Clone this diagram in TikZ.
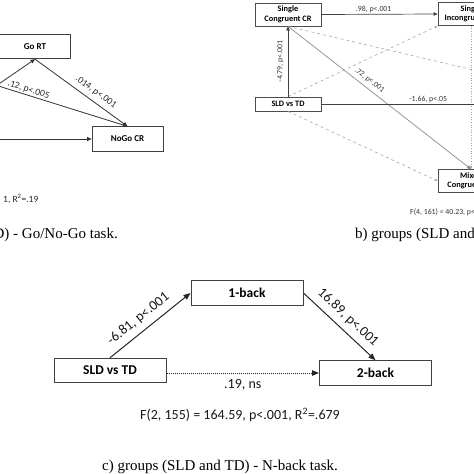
\documentclass[tikz,border=0pt]{standalone}
\usepackage{fontspec}
\setmainfont{Liberation Serif}
\newfontfamily\calibri{Carlito}
\usetikzlibrary{arrows.meta}
\tikzset{
	boxa/.style={draw=black!75,line width=0.8pt,inner sep=1pt,minimum width=71pt,minimum height=24.5pt,font={\calibri\fontsize{9}{10}\selectfont\bfseries}},
	boxb/.style={draw=black!70,line width=0.7pt,inner sep=1pt,align=center,minimum width=66pt,minimum height=23pt,font={\calibri\fontsize{8.3}{9.5}\selectfont\bfseries}},
	boxc/.style={draw=black!75,line width=1pt,inner sep=1pt,minimum width=112pt,minimum height=24.5pt,font={\calibri\fontsize{13.5}{15}\selectfont\bfseries}},
	taga/.style={inner sep=1pt,text=black!85,font={\calibri\fontsize{9.5}{10}\selectfont}},
	tagb/.style={inner sep=1pt,text=black!80,font={\calibri\fontsize{7.8}{9}\selectfont}},
	tagc/.style={inner sep=1pt,text=black!90,font={\calibri\fontsize{14}{16}\selectfont}},
	captext/.style={inner sep=0pt,font={\fontsize{15}{17}\selectfont}},
	linka/.style={black!80,line width=0.8pt,-{Triangle[length=4.5pt,width=4pt]}},
	linkb/.style={black!75,line width=0.7pt,-{Triangle[length=4pt,width=3.5pt]}},
	linkc/.style={black!85,line width=1pt,-{Triangle[length=7pt,width=5.5pt]}},
	fade/.style={black!35,dashed,line width=0.6pt,-{Triangle[length=3pt,width=2.5pt]}},
}
\begin{document}
\begin{tikzpicture}[x=1pt,y=-1pt]
	\useasboundingbox (0,0) rectangle (474,474);
	\clip (0,0) rectangle (474,474);
	\node[boxa] (gort) at (35,46.5) {Go RT};
	\node[boxa] (nogo) at (127.5,139) {NoGo CR};
	\coordinate (srcU) at (-64,127);
	\coordinate (srcV) at (-40,74);
	\coordinate (srcH) at (-20,139);
	\draw[linka] (srcU) -- (gort.south);
	\draw[linka] (srcV) -- node[taga,sloped,above,pos=0.4] {.12, p<.005} (nogo.north);
	\draw[linka] (gort.south) -- node[taga,sloped,above=4pt,pos=0.6] {.014, p<.001} (nogo.north);
	\draw[linka] (srcH) -- (nogo.west);
	\path (2,199) node[taga,anchor=west] {1, R\textsuperscript{2}=.19};
	\path (118,238) node[captext,anchor=base east] {D) - Go/No-Go task.};
	\node[boxb] (scc) at (288,14.5) {Single\\Congruent CR};
	\node[boxb] (sinc) at (471,14) {Single\\Incongruent CR};
	\node[boxb,minimum height=14pt] (sldb) at (288,104) {SLD vs TD};
	\node[boxb] (mixc) at (471,181) {Mixed\\Congruent CR};
	\coordinate (mixi) at (520,81);
	\coordinate (offR) at (535,104);
	\draw[fade] (sldb.north) -- (sinc.south west);
	\draw[fade] (scc.south) -- (mixi);
	\draw[fade] (sldb.south) -- (mixc.west);
	\draw[fade,dotted] (sinc.south) -- (mixc.north);
	\draw[linkb,black!45] (scc.south) -- node[tagb,sloped,above=3pt,pos=0.42] {.72, p<.001} (mixc.north);
	\draw[linkb] (scc.east) -- node[tagb,above,pos=0.45] {.98, p<.001} (sinc.west);
	\draw[linkb] (sldb.north) -- node[tagb,sloped,above=3pt] {-4.79, p<.001} (scc.south);
	\draw[linkb] (sldb.east) -- node[tagb,above] {-1.66, p<.05} (offR);
	\path (409,212) node[tagb,anchor=west] {F(4, 161) = 40.23, p<.001};
	\path (355,238) node[captext,anchor=base west] {b) groups (SLD and TD)};
	\node[boxc] (nback1) at (247,293) {1-back};
	\node[boxc] (sldc) at (110,370.5) {SLD vs TD};
	\node[boxc] (nback2) at (375.5,373) {2-back};
	\draw[linkc] (sldc.north) -- node[tagc,sloped,above=5pt,pos=0.45] {-6.81, p<.001} (nback1.west);
	\draw[linkc] (nback1.east) -- node[tagc,sloped,above=5pt] {16.89, p<.001} (nback2.north);
	\draw[linkc,densely dotted] (sldc.east |- nback2.west) -- node[tagc,below=5pt] {.19, ns} (nback2.west);
	\path (240,415) node[tagc] {F(2, 155) = 164.59, p<.001, R\textsuperscript{2}=.679};
	\path (220,470) node[captext,anchor=base] {c) groups (SLD and TD) - N-back task.};
\end{tikzpicture}
\end{document}
